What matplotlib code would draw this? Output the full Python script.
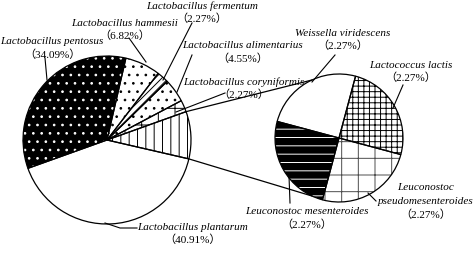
import matplotlib.pyplot as plt
import numpy as np

plt.rcParams['hatch.linewidth'] = 0.7

W, H = 474, 261

# big pie, counter-clockwise from the exploded "others" slice
main_names = ['others', 'Lactobacillus coryniformis', 'Lactobacillus alimentarius',
              'Lactobacillus fermentum', 'Lactobacillus hammesii',
              'Lactobacillus pentosus', 'Lactobacillus plantarum']
main_values = [9.09, 2.27, 4.55, 2.27, 6.82, 34.09, 40.91]
main_face = ['white', 'white', 'white', 'white', 'white', 'black', 'white']
main_hatchc = ['black', 'black', 'black', 'black', 'black', 'white', 'black']
main_hatch = ['||', '+', '..', '/////', '..', '..', '']

# small pie (the "others" slice split up)
sub_names = ['Lactococcus lactis', 'Weissella viridescens',
             'Leuconostoc mesenteroides', 'Leuconostoc pseudomesenteroides']
sub_values = [2.27, 2.27, 2.27, 2.27]
sub_face = ['white', 'white', 'black', 'white']
sub_hatchc = ['black', 'black', 'white', '0.3']
sub_hatch = ['+++', '', '--', '+']

# label layout: name lines, x centre, y of first line (pixels from top)
labels = [
    (['Lactobacillus pentosus'], 34.09, 52, 42),
    (['Lactobacillus hammesii'], 6.82, 125, 23),
    (['Lactobacillus fermentum'], 2.27, 202, 6),
    (['Lactobacillus alimentarius'], 4.55, 243, 46),
    (['Lactobacillus coryniformis'], 2.27, 244, 82),
    (['Weissella viridescens'], 2.27, 343, 33),
    (['Lactococcus lactis'], 2.27, 411, 65),
    (['Leuconostoc', 'pseudomesenteroides'], 2.27, 426, 188),
    (['Leuconostoc mesenteroides'], 2.27, 307, 212),
    (['Lactobacillus plantarum'], 40.91, 193, 227),
]
leaders = [
    [(45, 58), (47, 80)],
    [(129, 38), (146, 62)],
    [(192, 23), (163, 80)],
    [(192, 55), (177, 92)],
    [(225, 93), (176, 112)],
    [(335, 55), (312, 82)],
    [(403, 85), (393, 108)],
    [(376, 201), (368, 193)],
    [(290, 203), (289, 176)],
    [(137, 228), (120, 228), (105, 223)],
]

big_c, big_r = (107, H - 140), 84
small_c, small_r = (339, H - 138), 64

fig = plt.figure(figsize=(W / 100, H / 100), dpi=100)
ax = fig.add_axes([0, 0, 1, 1])

def draw_pie(values, face, hatchc, hatch, center, radius, start):
    wedges, _ = ax.pie(values, colors=face, hatch=hatch, center=center, radius=radius,
                       startangle=start, wedgeprops=dict(linewidth=0), frame=True)
    for w, c in zip(wedges, hatchc):
        w.set_edgecolor(c)
        w.set_linewidth(0)
    outl, _ = ax.pie(values, colors=['none'] * len(values), center=center, radius=radius,
                     startangle=start, wedgeprops=dict(linewidth=0.9, edgecolor='black'),
                     frame=True)
    return outl

big = draw_pie(main_values, main_face, main_hatchc, main_hatch, big_c, big_r, -13)
small = draw_pie(sub_values, sub_face, sub_hatchc, sub_hatch, small_c, small_r, -15)
ax.set_xlim(0, W)
ax.set_ylim(0, H)
ax.set_aspect('equal')
ax.axis('off')

# connecting lines from the "others" slice to the small pie
for ang_b, ang_s in [(big[0].theta2, 115), (big[0].theta1, 245)]:
    xb = big_c[0] + big_r * np.cos(np.radians(ang_b))
    yb = big_c[1] + big_r * np.sin(np.radians(ang_b))
    xs = small_c[0] + small_r * np.cos(np.radians(ang_s))
    ys = small_c[1] + small_r * np.sin(np.radians(ang_s))
    ax.plot([xb, xs], [yb, ys], color='black', lw=0.9)

fam = ['Liberation Serif', 'Noto Sans CJK SC']
for lines, pct, x, y in labels:
    for i, s in enumerate(lines):
        ax.text(x, H - (y + 14 * i), s, ha='center', va='center', fontsize=8,
                style='italic', family=fam)
    ax.text(x, H - (y + 14 * len(lines) - 1), f'（{pct:.2f}%）', ha='center', va='center',
            fontsize=8, family=fam)

for pts in leaders:
    xs = [p[0] for p in pts]
    ys = [H - p[1] for p in pts]
    ax.plot(xs, ys, color='black', lw=0.8)

fig.savefig('out.png', dpi=100)
